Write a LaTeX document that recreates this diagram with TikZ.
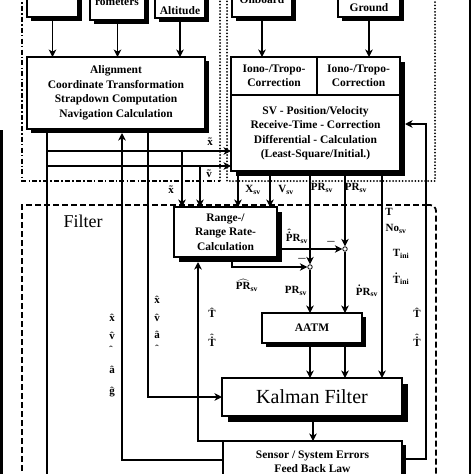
\documentclass[tikz,border=0pt]{standalone}
\usepackage{amsmath}
\usepackage{fontspec}
\setmainfont{Liberation Serif}
\usetikzlibrary{arrows.meta,shadows,calc}
\newcommand{\bxfont}{\fontsize{11.5}{14.5}\selectfont\bfseries}
\newcommand{\labfont}{\fontsize{11}{12}\selectfont\boldmath}
\tikzset{
  bx/.style={draw, line width=1.3pt, fill=white, inner sep=0pt, outer sep=0pt, anchor=north west, align=center, font=\bxfont},
  shd/.style={drop shadow={shadow xshift=#1, shadow yshift=-#1, fill=black, opacity=1}},
  shd/.default=4pt,
  ln/.style={line width=1.2pt},
  arr/.style={ln, -{Stealth[length=7.5pt,width=7.5pt,inset=2.2pt]}},
  lab/.style={inner sep=0pt, font=\labfont},
  txt/.style={inner sep=0pt, font=\bxfont, anchor=base},
  insframe/.style={line width=1.6pt, dash pattern=on 5pt off 2.2pt on 1.5pt off 2.2pt},
  dotframe/.style={line width=2pt, line cap=round, dash pattern=on 0pt off 3.2pt},
  filtframe/.style={line width=1.8pt, dash pattern=on 6pt off 3pt},
  junc/.style={circle, draw, line width=0.8pt, fill=white, inner sep=0pt, minimum size=4.5pt},
}
\begin{document}
\begin{tikzpicture}[x=1pt,y=-1pt]
\useasboundingbox (0,0) rectangle (474,474);
\clip (0,0) rectangle (474,474);
% page edges
\fill (0,130) rectangle (3,474);
\draw[line width=1.2pt] (470,-5) -- (470,480);
% frames
\draw[insframe] (22,-5) -- (22,181) -- (220,181);
\draw[dotframe] (220,-5) -- (220,181);
\draw[dotframe] (227,-5) -- (227,181) -- (435,181) -- (435,-5);
\draw[filtframe] (22,480) -- (22,205) -- (430,205);
\draw[filtframe, rounded corners=6pt] (426,205) -- (436,205) -- (436,480);
\node[font=\fontsize{18}{20}\selectfont, inner sep=0pt] (filt) at (83,221) {Filter};
% top boxes
\node[bx,shd,minimum width=51pt,minimum height=29pt] (b1) at (27,-12) {};
\node[bx,shd,minimum width=55pt,minimum height=32pt] (b2) at (90,-12) {};
\node[bx,shd,minimum width=50pt,minimum height=30pt] (b3) at (155,-12) {};
\node[bx,shd,minimum width=60pt,minimum height=29pt] (onb) at (232,-12) {};
\node[bx,shd,minimum width=62pt,minimum height=29pt] (gnd) at (338,-12) {};
\node[txt] (t2) at (117,5) {rometers};
\node[txt] (t3) at (180,14) {Altitude};
\node[txt] (tOn) at (262,3) {Onboard};
\node[txt] (tGr) at (369,11) {Ground};
% main boxes
\node[bx,shd,minimum width=178pt,minimum height=72pt] (align) at (27,57)
  {Alignment\\Coordinate Transformation\\Strapdown Computation\\Navigation Calculation};
\node[bx,shd=5pt,minimum width=169pt,minimum height=114pt] (gps) at (231,57) {};
\node[bx,minimum width=86pt,minimum height=38pt] (iono1) at (231,57) {Iono-/Tropo-\\Correction};
\node[bx,minimum width=83pt,minimum height=38pt] (iono2) at (317,57) {Iono-/Tropo-\\Correction};
\node[bx,minimum width=169pt,minimum height=76pt] (sv) at (231,95)
  {SV - Position/Velocity\\Receive-Time - Correction\\Differential - Calculation\\(Least-Square/Initial.)};
\node[bx,shd=5pt,minimum width=103pt,minimum height=50pt] (range) at (174,207)
  {Range-/\\Range Rate-\\Calculation};
\node[bx,shd,minimum width=100pt,minimum height=30pt] (aatm) at (262,313) {AATM};
\node[bx,shd=6pt,minimum width=180pt,minimum height=38pt,font=\fontsize{20}{22}\selectfont] (kalman) at (222,378) {Kalman Filter};
\node[bx,shd,minimum width=179pt,minimum height=41pt,font=\fontsize{11.5}{13.5}\selectfont\bfseries] (feed) at (223,441)
  {Sensor / System Errors\\Feed Back Law};
\node[junc] (c1) at (310,267) {};
\node[junc] (c2) at (345,249) {};
% coordinates
\coordinate (X47) at (47,0);
\coordinate (X122) at (122,0);
\coordinate (X148) at (148,0);
\coordinate (X182) at (182,0);
\coordinate (X198) at (198,0);
\coordinate (X200) at (200,0);
\coordinate (X232) at (232,0);
\coordinate (X238) at (238,0);
\coordinate (X270) at (270,0);
\coordinate (X310) at (310,0);
\coordinate (X313) at (313,0);
\coordinate (X345) at (345,0);
\coordinate (X382) at (382,0);
\coordinate (X426) at (426,0);
\coordinate (Y124) at (0,124);
\coordinate (Y151) at (0,151);
\coordinate (Y166) at (0,166);
\coordinate (Y249) at (0,249);
\coordinate (Y397) at (0,397);
\coordinate (Y459) at (0,459);
\coordinate (Y460) at (0,460);
\coordinate (Ybot) at (0,480);
% connectors
\draw[arr] (b1.south) -- (b1.south |- align.north);
\draw[arr] (b2.south) -- (b2.south |- align.north);
\draw[arr] (b3.south) -- (b3.south |- align.north);
\draw[arr] (onb.south) -- (onb.south |- gps.north);
\draw[arr] (gnd.south) -- (gnd.south |- gps.north);
\draw[ln] (align.south -| X47) -- (X47 |- Ybot);
\draw[arr] (X47 |- Y151) -- (sv.west |- Y151);
\draw[arr] (X47 |- Y166) -- (sv.west |- Y166);
\draw[arr] (X182 |- Y151) -- (range.north -| X182);
\draw[arr] (X200 |- Y166) -- (range.north -| X200);
\draw[arr] (align.south -| X148) -- (X148 |- Y397) -- (kalman.west |- Y397);
\draw[arr] (feed.west |- Y460) -- (X122 |- Y460) -- ([yshift=-4pt]align.south -| X122);
\draw[arr] (feed.north west) -- (X198 |- feed.north) -- ([yshift=-5pt]range.south -| X198);
\draw[arr] (sv.south -| X238) -- (range.north -| X238);
\draw[arr] (sv.south -| X270) -- (range.north -| X270);
\draw[arr] (sv.south -| X310) -- (c1.north);
\draw[arr] (c1.south) -- (aatm.north -| X310);
\draw[arr] (sv.south -| X345) -- (c2.north);
\draw[arr] (c2.south) -- (aatm.north -| X345);
\draw[arr] (range.east |- Y249) -- (c2.west);
\draw[arr] (range.south -| X232) -- (X232 |- c1) -- (c1.west);
\draw[arr] (sv.south -| X382) -- (kalman.north -| X382);
\draw[arr] (aatm.south -| X310) -- (kalman.north -| X310);
\draw[arr] (aatm.south -| X345) -- (kalman.north -| X345);
\draw[arr] (kalman.south -| X313) -- (feed.north -| X313);
\draw[arr] (feed.east |- Y459) -- (X426 |- Y459) -- (X426 |- Y124) -- ([xshift=5pt]sv.east |- Y124);
% labels
\node[lab] (lx1) at (210,142) {$\tilde{\mathrm{x}}$};
\node[lab] (lv1) at (209,174) {$\tilde{\mathrm{v}}$};
\node[lab] (lx2) at (171,190) {$\tilde{\mathrm{x}}$};
\node[lab] (lXsv) at (253,190) {$\mathrm{X}_{\mathrm{sv}}$};
\node[lab] (lVsv) at (286,190) {$\mathrm{V}_{\mathrm{sv}}$};
\node[lab] (lPR1) at (322,188) {$\mathrm{PR}_{\mathrm{sv}}$};
\node[lab] (lPR2) at (356,188) {$\mathrm{PR}_{\mathrm{sv}}$};
\node[lab] (lT) at (389,212) {$\mathrm{T}$};
\node[lab] (lNo) at (396,229) {$\mathrm{No}_{\mathrm{sv}}$};
\node[lab] (lTi) at (401,254) {$\mathrm{T}_{\mathrm{ini}}$};
\node[lab] (lTdi) at (401,279) {$\dot{\mathrm{T}}_{\mathrm{ini}}$};
\node[lab] (lPRhd) at (297,236) {$\hat{\dot{\mathrm{P}}}\mathrm{R}_{\mathrm{sv}}$};
\node[lab] (lPRh) at (247,285) {$\widehat{\mathrm{PR}}_{\mathrm{sv}}$};
\node[lab] (lm1) at (331,242) {$-$};
\node[lab] (lm2) at (302,259) {$-$};
\node[lab] (lPR3) at (296,291) {$\mathrm{PR}_{\mathrm{sv}}$};
\node[lab] (lPRd) at (367,291) {$\dot{\mathrm{P}}\mathrm{R}_{\mathrm{sv}}$};
\node[lab] (rTh) at (417,313) {$\hat{\mathrm{T}}$};
\node[lab] (rTdh) at (417,340) {$\hat{\dot{\mathrm{T}}}$};
\node[lab] (cTh) at (212,313) {$\hat{\mathrm{T}}$};
\node[lab] (cTdh) at (212,340) {$\hat{\dot{\mathrm{T}}}$};
\node[lab] (a1) at (112,318) {$\hat{\mathrm{x}}$};
\node[lab] (a2) at (112,336) {$\hat{\mathrm{v}}$};
\node[lab] (a3) at (111,350) {$\hat{}$};
\node[lab] (a4) at (112,370) {$\hat{\mathrm{a}}$};
\node[lab] (a5) at (112,392) {$\hat{\mathrm{g}}$};
\node[lab] (bb1) at (157,300) {$\hat{\mathrm{x}}$};
\node[lab] (bb2) at (157,318) {$\hat{\mathrm{v}}$};
\node[lab] (bb3) at (157,335) {$\hat{\mathrm{a}}$};
\node[lab] (bb4) at (157,349) {$\hat{}$};
\end{tikzpicture}
\end{document}
